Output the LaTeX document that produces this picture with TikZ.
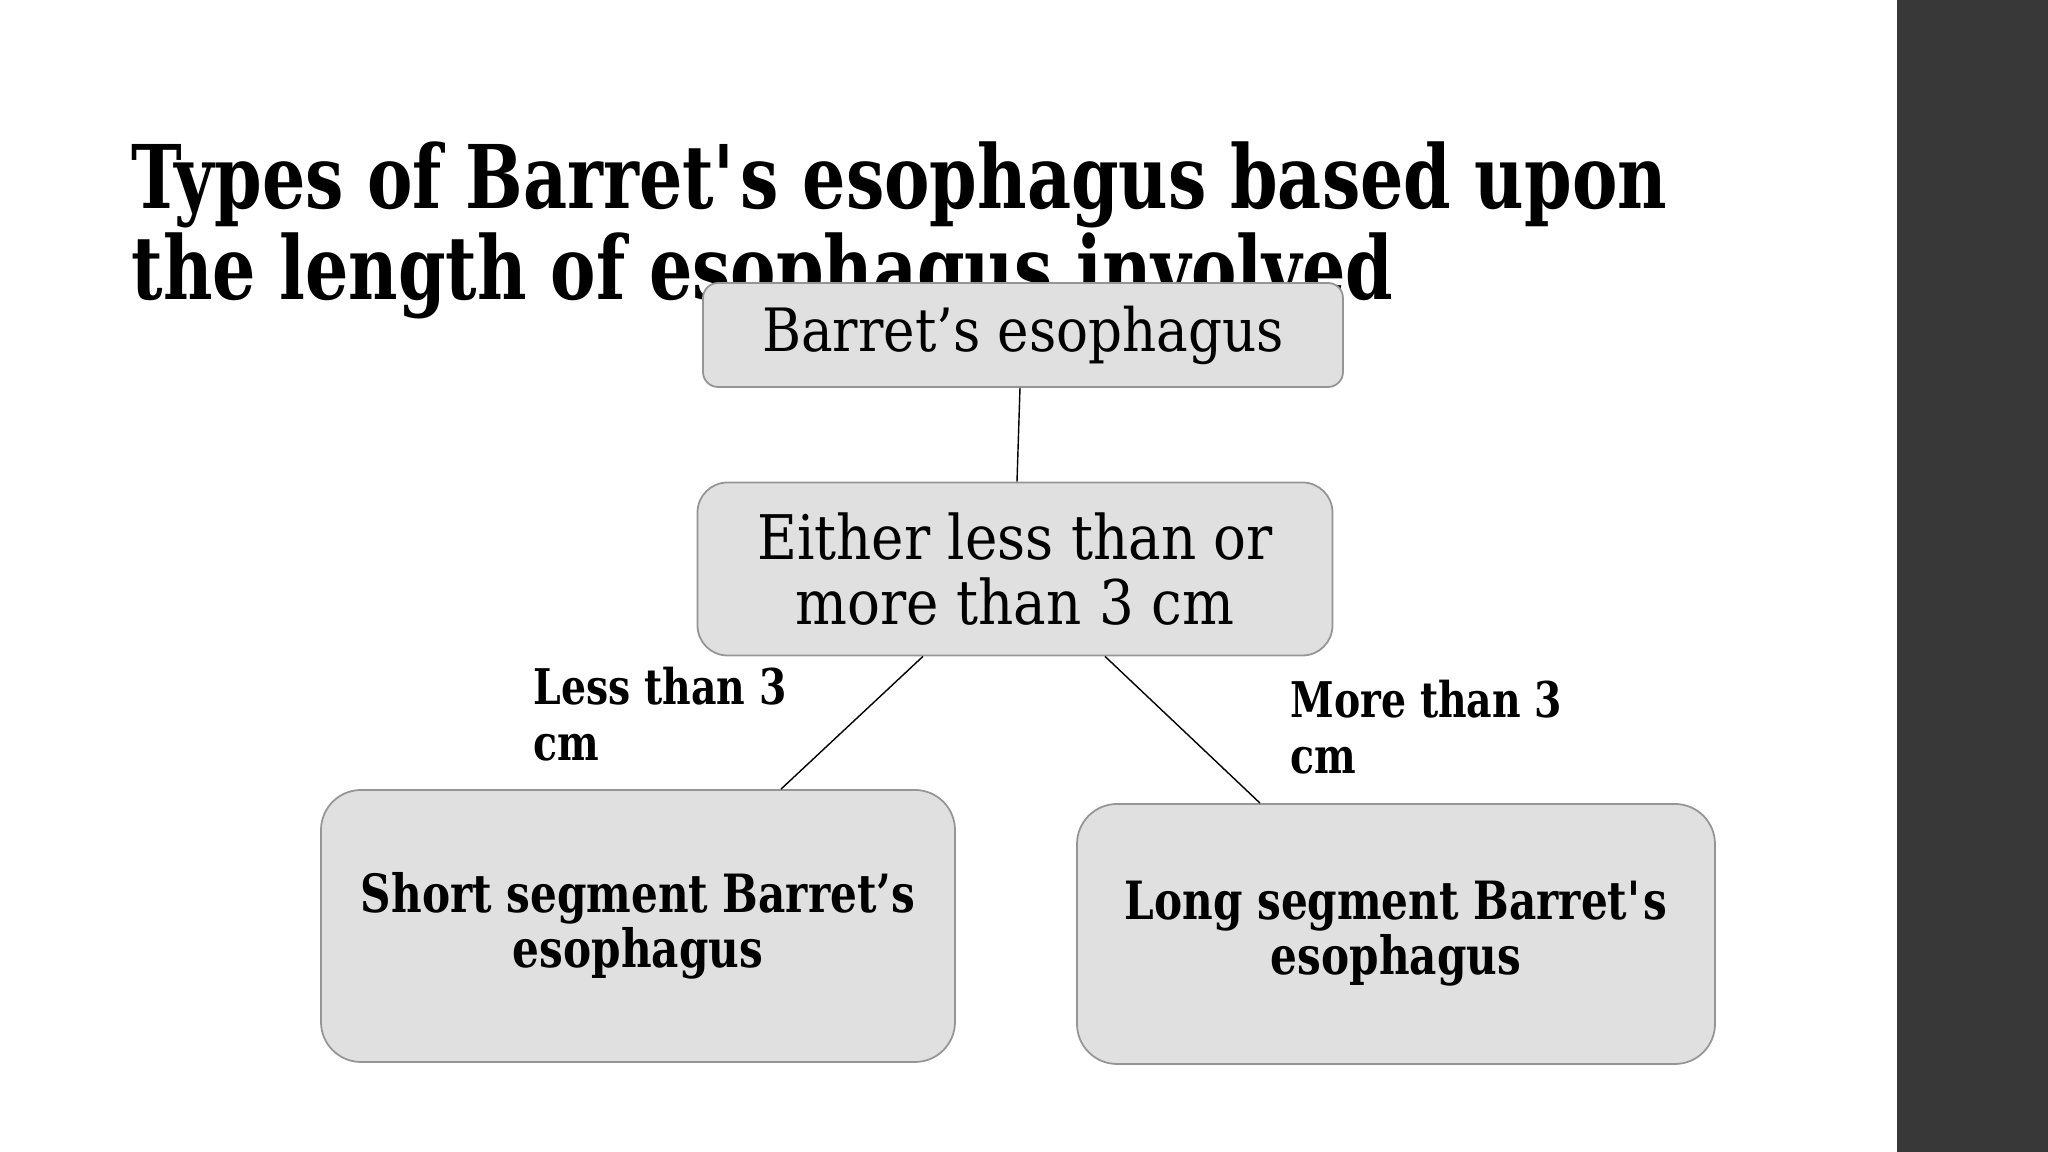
\documentclass[tikz,border=0pt]{standalone}
\usepackage{fontspec}
\usepackage{tikz}
\setmainfont{DejaVu Serif}[FakeStretch=0.8]
\newfontfamily\titlefont{DejaVu Serif}[FakeStretch=0.775]
\newfontfamily\boxfont{DejaVu Serif}[FakeStretch=0.89]
\definecolor{boxgray}{HTML}{E0E0E0}
\definecolor{edgegray}{HTML}{959595}
\definecolor{sidebar}{HTML}{383838}

\begin{document}
\begin{tikzpicture}
			\useasboundingbox (0,0) rectangle (20.48,11.52);
			\fill[sidebar] (18.97,0) rectangle (20.48,11.52);
			\node[anchor=base west, align=left, font=\titlefont\bfseries\fontsize{25}{26}\selectfont, inner sep=0pt] (title) at (1.31,8.52) {Types of Barret\textquotesingle s esophagus based upon\\the length of esophagus involved};
			\tikzset{blk/.style={draw=edgegray, fill=boxgray, align=center, line width=0.5pt, inner sep=0pt}}
			\node[blk, rounded corners=0.15cm, minimum width=6.40cm, minimum height=1.04cm, font=\boxfont\fontsize{17}{20}\selectfont] (bar) at (10.23,8.17) {Barret’s esophagus};
			\node[blk, rounded corners=0.3cm, minimum width=6.35cm, minimum height=1.73cm, font=\boxfont\fontsize{17.5}{18.5}\selectfont] (either) at (10.15,5.83) {Either less than or\\more than 3 cm};
			\node[blk, rounded corners=0.4cm, minimum width=6.34cm, minimum height=2.72cm, font=\bfseries\fontsize{15}{15.6}\selectfont] (short) at (6.38,2.26) {Short segment Barret’s\\esophagus};
			\node[blk, rounded corners=0.4cm, minimum width=6.38cm, minimum height=2.60cm, font=\bfseries\fontsize{15}{15.6}\selectfont] (long) at (13.96,2.18) {Long segment Barret\textquotesingle s\\esophagus};
			\draw[black] ([xshift=-0.03cm]bar.south) -- ([xshift=0.02cm]either.north);
			\draw[black] ([xshift=-0.92cm]either.south) -- ([xshift=1.43cm]short.north);
			\draw[black] ([xshift=0.90cm]either.south) -- ([xshift=-1.36cm]long.north);
			\node[anchor=base west, align=left, inner sep=0pt, font=\bfseries\fontsize{14}{16}\selectfont] (less) at (5.33,3.91) {Less than 3\\cm};
			\node[anchor=base west, align=left, inner sep=0pt, font=\bfseries\fontsize{14}{16}\selectfont] (more) at (12.90,3.78) {More than 3\\cm};
		\end{tikzpicture}
\end{document}
